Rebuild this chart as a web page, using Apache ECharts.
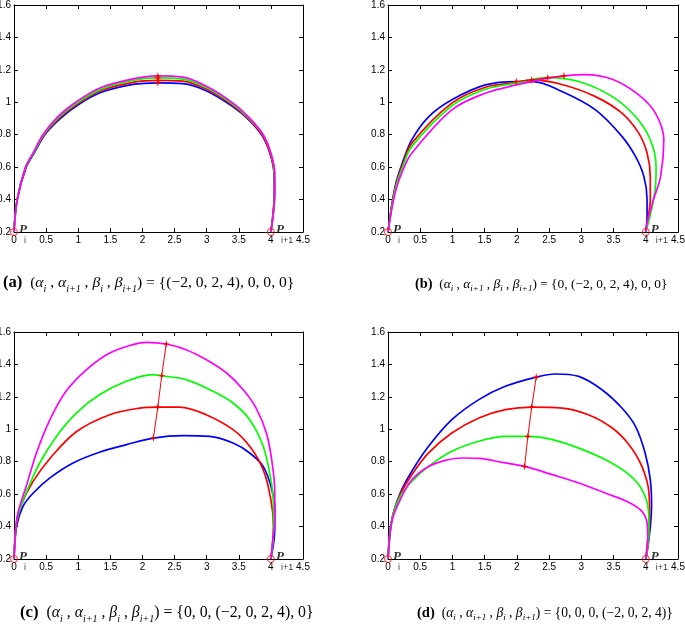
<!DOCTYPE html>
<html>
<head>
<meta charset="utf-8">
<title></title>
<script src="https://cdn.jsdelivr.net/npm/echarts@6/dist/echarts.min.js"></script>
</head>
<body style="margin:0;background:#fff">
<div id="main" style="width:685px;height:625px"></div>
<script>
// curve points [x, y], one array per curve and panel
var aBlue = [[0,0.2],[0.05,0.4],[0.19,0.6],[0.32,0.69],[0.48,0.8],[0.72,0.9],[1.0,0.985],[1.35,1.06],[1.85,1.11],[2.24,1.12],[2.63,1.115],[3.0,1.07],[3.4,0.975],[3.66,0.89],[3.87,0.79],[3.99,0.68],[4.05,0.56],[4.055,0.44],[4.035,0.317],[4,0.2]];
var aRed = [[0,0.2],[0.05,0.4],[0.185,0.6],[0.31,0.69],[0.47,0.8],[0.71,0.905],[0.99,0.99],[1.34,1.07],[1.85,1.123],[2.24,1.135],[2.63,1.13],[3.0,1.08],[3.4,0.983],[3.66,0.895],[3.87,0.795],[3.99,0.683],[4.05,0.562],[4.055,0.44],[4.035,0.317],[4,0.2]];
var aGreen = [[0,0.2],[0.05,0.4],[0.18,0.6],[0.31,0.69],[0.46,0.8],[0.7,0.908],[0.98,0.995],[1.34,1.078],[1.85,1.135],[2.24,1.15],[2.63,1.143],[3.0,1.09],[3.4,0.99],[3.66,0.9],[3.88,0.798],[4.0,0.685],[4.055,0.563],[4.06,0.44],[4.04,0.317],[4,0.2]];
var aMagenta = [[0,0.2],[0.05,0.4],[0.18,0.6],[0.3,0.69],[0.45,0.8],[0.68,0.91],[0.96,1.0],[1.33,1.087],[1.85,1.144],[2.24,1.163],[2.63,1.155],[2.99,1.1],[3.41,0.995],[3.67,0.902],[3.88,0.8],[4.0,0.687],[4.06,0.563],[4.06,0.44],[4.04,0.317],[4,0.2]];
var aStars = [[2.24,1.12],[2.24,1.135],[2.24,1.15],[2.24,1.162]];

var bBlue = [[0,0.2],[0.11,0.48],[0.24,0.645],[0.37,0.77],[0.63,0.91],[0.99,1.015],[1.51,1.107],[1.99,1.128],[2.25,1.128],[2.7,1.066],[3.22,0.953],[3.63,0.79],[3.84,0.666],[3.97,0.543],[4.02,0.4],[4.02,0.297],[4,0.2]];
var bRed = [[0,0.2],[0.11,0.47],[0.24,0.63],[0.37,0.748],[0.99,0.995],[1.51,1.093],[1.99,1.122],[2.23,1.138],[2.7,1.11],[3.22,1.035],[3.63,0.933],[3.89,0.81],[4.02,0.687],[4.07,0.543],[4.07,0.4],[4.04,0.297],[4,0.2]];
var bGreen = [[0,0.2],[0.11,0.46],[0.24,0.615],[0.37,0.728],[0.99,0.978],[1.51,1.08],[1.99,1.118],[2.48,1.152],[2.96,1.128],[3.48,1.035],[3.84,0.912],[4.07,0.769],[4.16,0.604],[4.15,0.48],[4.09,0.338],[4,0.2]];
var bMagenta = [[0,0.2],[0.11,0.44],[0.24,0.59],[0.37,0.687],[0.99,0.953],[1.51,1.056],[1.99,1.107],[2.44,1.146],[2.73,1.163],[3.06,1.171],[3.48,1.142],[3.89,1.046],[4.15,0.933],[4.28,0.769],[4.23,0.543],[4.12,0.4],[4.02,0.255],[4,0.2]];
var bStars = [[1.99,1.128],[2.23,1.138],[2.48,1.152],[2.73,1.163]];

var cBlue = [[0,0.2],[0.04,0.401],[0.14,0.525],[0.3,0.607],[0.56,0.7],[0.92,0.792],[1.33,0.858],[1.75,0.905],[2.17,0.946],[2.63,0.961],[3.05,0.956],[3.41,0.915],[3.67,0.854],[3.88,0.771],[4.0,0.648],[4.06,0.525],[4.06,0.381],[4,0.2]];
var cRed = [[0,0.2],[0.04,0.42],[0.12,0.54],[0.3,0.68],[0.56,0.82],[0.97,0.985],[1.49,1.09],[1.96,1.131],[2.24,1.137],[2.58,1.137],[2.99,1.09],[3.41,0.998],[3.67,0.895],[3.88,0.751],[4.0,0.566],[4.04,0.401],[4,0.2]];
var cGreen = [[0,0.2],[0.04,0.43],[0.12,0.54],[0.2,0.62],[0.4,0.792],[0.66,0.956],[0.97,1.1],[1.33,1.213],[1.75,1.296],[2.16,1.337],[2.3,1.33],[2.68,1.306],[3.1,1.234],[3.41,1.162],[3.67,1.059],[3.88,0.895],[4.0,0.689],[4.04,0.525],[4.04,0.36],[4,0.2]];
var cMagenta = [[0,0.2],[0.04,0.44],[0.1,0.54],[0.19,0.648],[0.35,0.854],[0.56,1.059],[0.81,1.234],[1.13,1.368],[1.49,1.47],[1.85,1.522],[2.06,1.536],[2.37,1.526],[2.68,1.491],[2.99,1.43],[3.31,1.347],[3.57,1.244],[3.77,1.131],[3.93,0.977],[4.02,0.792],[4.06,0.607],[4.06,0.443],[4.03,0.319],[4,0.2]];
var cStars = [[2.17,0.946],[2.24,1.137],[2.3,1.33],[2.37,1.526]];

var dBlue = [[0,0.2],[0.06,0.443],[0.19,0.607],[0.37,0.741],[0.63,0.895],[0.99,1.059],[1.41,1.183],[1.82,1.265],[2.3,1.322],[2.6,1.341],[2.96,1.326],[3.32,1.244],[3.63,1.131],[3.84,1.018],[3.99,0.854],[4.07,0.689],[4.09,0.525],[4.06,0.36],[4,0.2]];
var dRed = [[0,0.2],[0.06,0.443],[0.19,0.597],[0.37,0.72],[0.63,0.854],[0.99,0.977],[1.41,1.07],[1.82,1.121],[2.23,1.137],[2.7,1.131],[3.11,1.09],[3.48,1.008],[3.74,0.905],[3.94,0.771],[4.05,0.607],[4.06,0.443],[4.03,0.319],[4,0.2]];
var dGreen = [[0,0.2],[0.06,0.44],[0.19,0.586],[0.37,0.679],[0.63,0.771],[0.99,0.864],[1.41,0.926],[1.82,0.956],[2.17,0.956],[2.55,0.936],[2.96,0.884],[3.37,0.813],[3.74,0.72],[3.94,0.628],[4.04,0.504],[4.05,0.36],[4,0.2]];
var dMagenta = [[0,0.2],[0.06,0.432],[0.19,0.566],[0.37,0.689],[0.63,0.771],[0.89,0.808],[1.15,0.823],[1.41,0.821],[1.77,0.796],[2.12,0.771],[2.55,0.72],[2.96,0.669],[3.37,0.607],[3.74,0.549],[3.94,0.494],[4.02,0.422],[4.03,0.319],[4,0.2]];
var dStars = [[2.3,1.322],[2.23,1.137],[2.17,0.956],[2.12,0.771]];

var endPoints = [[0,0.2],[4,0.2]];
var endSubs = ['i', 'i+1'];
var captionTags = ['(a)', '(b)', '(c)', '(d)'];
var captionValues = ['{(\u22122, 0, 2, 4), 0, 0, 0}', '{0, (\u22122, 0, 2, 4), 0, 0}', '{0, 0, (\u22122, 0, 2, 4), 0}', '{0, 0, 0, (\u22122, 0, 2, 4)}'];

var curves = [
    [aBlue, aRed, aGreen, aMagenta, aStars],
    [bBlue, bRed, bGreen, bMagenta, bStars],
    [cBlue, cRed, cGreen, cMagenta, cStars],
    [dBlue, dRed, dGreen, dMagenta, dStars]
];
var colors = ['#0000ff', '#ff0000', '#00ff00', '#ff00ff'];

var boxes = [
    { left: 14, top: 5, width: 289, height: 227 },
    { left: 388, top: 5, width: 290, height: 227 },
    { left: 14, top: 332, width: 289, height: 227 },
    { left: 388, top: 332, width: 290, height: 227 }
];
// caption left, vertical centre, font size
var captionPos = [[3, 283, 15.6], [415, 284, 13.4], [20, 613, 15.8], [417, 613, 13.6]];

var labelFont = { fontFamily: 'Liberation Sans', fontSize: 10, color: '#000' };
var starPath = 'path://M0,-10L2,-2L10,0L2,2L0,10L-2,2L-10,0L-2,-2Z';

var grid = [], xAxis = [], yAxis = [], series = [], graphic = [];

for (var i = 0; i < 4; i++) {
    grid.push(Object.assign({ containLabel: false, outerBoundsMode: 'none' }, boxes[i]));
    var axLine = { show: true, onZero: false, lineStyle: { color: '#000', width: 1 } };
    var tick = { show: true, inside: true, length: 4, lineStyle: { color: '#000' } };
    xAxis.push({ type: 'value', gridIndex: i, min: 0, max: 4.5, interval: 0.5, position: 'bottom',
        axisLine: axLine, axisTick: tick, splitLine: { show: false },
        axisLabel: Object.assign({ margin: 3, showMaxLabel: true, hideOverlap: false }, labelFont) });
    xAxis.push({ type: 'value', gridIndex: i, min: 0, max: 4.5, interval: 0.5, position: 'top',
        axisLine: axLine, axisTick: tick, splitLine: { show: false }, axisLabel: { show: false } });
    yAxis.push({ type: 'value', gridIndex: i, min: 0.2, max: 1.6, interval: 0.2, position: 'left',
        axisLine: axLine, axisTick: tick, splitLine: { show: false },
        axisLabel: Object.assign({ margin: 3, hideOverlap: false }, labelFont) });
    yAxis.push({ type: 'value', gridIndex: i, min: 0.2, max: 1.6, interval: 0.2, position: 'right',
        axisLine: axLine, axisTick: tick, splitLine: { show: false }, axisLabel: { show: false } });

    for (var c = 0; c < 4; c++) {
        series.push({ type: 'line', xAxisIndex: 2 * i, yAxisIndex: 2 * i, data: curves[i][c],
            showSymbol: false, smooth: 0.35, lineStyle: { color: colors[c], width: 1.7 }, z: 3 + c });
    }
    series.push({ type: 'line', xAxisIndex: 2 * i, yAxisIndex: 2 * i, data: curves[i][4],
        symbol: starPath, symbolSize: 8, showSymbol: true,
        itemStyle: { color: '#ff0000' }, lineStyle: { color: '#ff0000', width: 1 }, z: 8 });

    series.push({ type: 'scatter', xAxisIndex: 2 * i, yAxisIndex: 2 * i, data: endPoints,
        symbol: 'circle', symbolSize: 7,
        itemStyle: { color: 'rgba(0,0,0,0)', borderColor: '#ff0000', borderWidth: 1 }, z: 9,
        label: { show: true, position: 'right', distance: 1, offset: [0, -2], formatter: 'P',
            fontFamily: 'Liberation Serif', fontStyle: 'italic', fontWeight: 'bold', fontSize: 13, color: '#000' } });
    series.push({ type: 'scatter', xAxisIndex: 2 * i, yAxisIndex: 2 * i, data: endPoints,
        symbolSize: 0, silent: true, z: 9,
        label: { show: true, position: 'right', distance: 0, offset: [10, 9],
            formatter: function (p) { return endSubs[p.dataIndex]; },
            fontFamily: 'Liberation Sans', fontSize: 9, color: '#000' } });

    var fs = captionPos[i][2];
    var sub = Math.round(fs * 0.65);
    var lh = Math.round(fs * 1.4);
    graphic.push({ type: 'text', left: captionPos[i][0], top: captionPos[i][1] - lh / 2,
        style: {
            text: '{b|' + captionTags[i] + '}{t|  (}{g|\u03b1}{s|i}{t| , }{g|\u03b1}{s|i+1}{t| , }{g|\u03b2}{s|i}{t| , }{g|\u03b2}{s|i+1}{t|) = }' + captionValues[i],
            font: fs + 'px "Liberation Serif"', fill: '#000', lineHeight: lh, verticalAlign: 'top',
            rich: {
                b: { fontFamily: 'Liberation Serif', fontWeight: 'bold', fontSize: fs + 1, lineHeight: lh },
                t: { fontFamily: 'Liberation Serif', fontSize: fs, lineHeight: lh },
                g: { fontFamily: 'Liberation Serif', fontStyle: 'italic', fontSize: fs, lineHeight: lh },
                s: { fontFamily: 'Liberation Serif', fontStyle: 'italic', fontSize: sub, lineHeight: Math.round(lh * 0.55), verticalAlign: 'bottom' }
            }
        } });
}

var myChart = echarts.init(document.getElementById('main'));
myChart.setOption({
    animation: false,
    backgroundColor: '#fff',
    grid: grid,
    xAxis: xAxis,
    yAxis: yAxis,
    series: series,
    graphic: graphic
});
</script>
</body>
</html>
